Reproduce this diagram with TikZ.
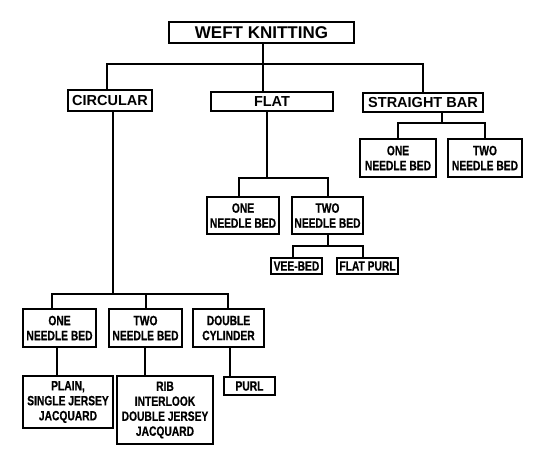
\documentclass[tikz,border=0pt]{standalone}
\usepackage{fontspec}
\setmainfont{Liberation Sans}
\newfontfamily\condfont[FakeStretch=0.76,FakeBold=0.6]{Liberation Sans}
\begin{document}
\begin{tikzpicture}[x=1pt,y=-1pt,
  box/.style={draw, line width=1.4pt, inner sep=0pt, align=center, font=\bfseries\fontsize{14.5}{16}\selectfont},
  cbox/.style={draw, line width=1.4pt, inner sep=0pt, align=center, font=\condfont\bfseries\fontsize{13.5}{15}\selectfont},
  conn/.style={line width=1.4pt}]
\useasboundingbox[fill=white] (0,0) rectangle (547,475);
% top level
\node[box, minimum width=185pt, minimum height=21pt, font=\bfseries\fontsize{17}{19}\selectfont] (weft) at (261.5,32.5) {WEFT KNITTING};
\node[box, minimum width=84pt, minimum height=21pt] (circ) at (110,100.5) {CIRCULAR};
\node[box, minimum width=122pt, minimum height=19pt] (flat) at (272,101.5) {FLAT};
\node[box, minimum width=120pt, minimum height=19pt] (sbar) at (423,102.5) {STRAIGHT BAR};
% straight bar children
\node[cbox, minimum width=76pt, minimum height=38pt] (sone) at (398,158) {ONE\\NEEDLE BED};
\node[cbox, minimum width=74pt, minimum height=38pt] (stwo) at (485,158) {TWO\\NEEDLE BED};
% flat children
\node[cbox, minimum width=72pt, minimum height=37pt] (fone) at (243,215.5) {ONE\\NEEDLE BED};
\node[cbox, minimum width=71pt, minimum height=37pt] (ftwo) at (327.5,215.5) {TWO\\NEEDLE BED};
\node[cbox, minimum width=51pt, minimum height=16pt] (vee) at (296.5,266) {VEE-BED};
\node[cbox, minimum width=61pt, minimum height=16pt] (fpurl) at (367.5,266) {FLAT PURL};
% circular children
\node[cbox, minimum width=73pt, minimum height=38pt] (cone) at (59.5,328) {ONE\\NEEDLE BED};
\node[cbox, minimum width=73pt, minimum height=38pt] (ctwo) at (145.5,328) {TWO\\NEEDLE BED};
\node[cbox, minimum width=71pt, minimum height=38pt] (cdbl) at (228.5,328) {DOUBLE\\CYLINDER};
\node[cbox, minimum width=90pt, minimum height=52pt] (plain) at (68,402) {PLAIN,\\SINGLE JERSEY\\JACQUARD};
\node[cbox, minimum width=96pt, minimum height=68pt] (rib) at (165,410) {RIB\\INTERLOOK\\DOUBLE JERSEY\\JACQUARD};
\node[cbox, minimum width=51pt, minimum height=18pt] (purl) at (249.5,386) {PURL};
% bus coordinates
\coordinate (b0) at (263,64);
\coordinate (bf) at (267,178);
\coordinate (bs) at (442,123);
\coordinate (bft) at (328,246);
\coordinate (bc) at (113,294);
% connectors
\draw[conn] (weft.south -| b0) -- (b0);
\draw[conn] ([xshift=-3pt]circ.north) |- (b0) -| (sbar.north);
\draw[conn] (flat.north -| b0) -- (b0);
\draw[conn] (sbar.south -| bs) -- (bs);
\draw[conn] (sone.north) |- (bs) -| (stwo.north);
\draw[conn] (flat.south -| bf) -- (bf);
\draw[conn] ([xshift=-4pt]fone.north) |- (bf) -| ([xshift=0.5pt]ftwo.north);
\draw[conn] (ftwo.south -| bft) -- (bft);
\draw[conn] ([xshift=-3.5pt]vee.north) |- (bft) -| ([xshift=-4.5pt]fpurl.north);
\draw[conn] (circ.south -| bc) -- (bc);
\draw[conn] ([xshift=-7.5pt]cone.north) |- (bc) -| ([xshift=-0.5pt]cdbl.north);
\draw[conn] ([xshift=0.5pt]ctwo.north) -- ([xshift=0.5pt]ctwo.north |- bc);
\draw[conn] ([xshift=-2.5pt]cone.south) -- ([xshift=-2.5pt]cone.south |- plain.north);
\draw[conn] ([xshift=-0.5pt]ctwo.south) -- ([xshift=-0.5pt]ctwo.south |- rib.north);
\draw[conn] ([xshift=1.5pt]cdbl.south) -- ([xshift=1.5pt]cdbl.south |- purl.north);
\end{tikzpicture}
\end{document}
